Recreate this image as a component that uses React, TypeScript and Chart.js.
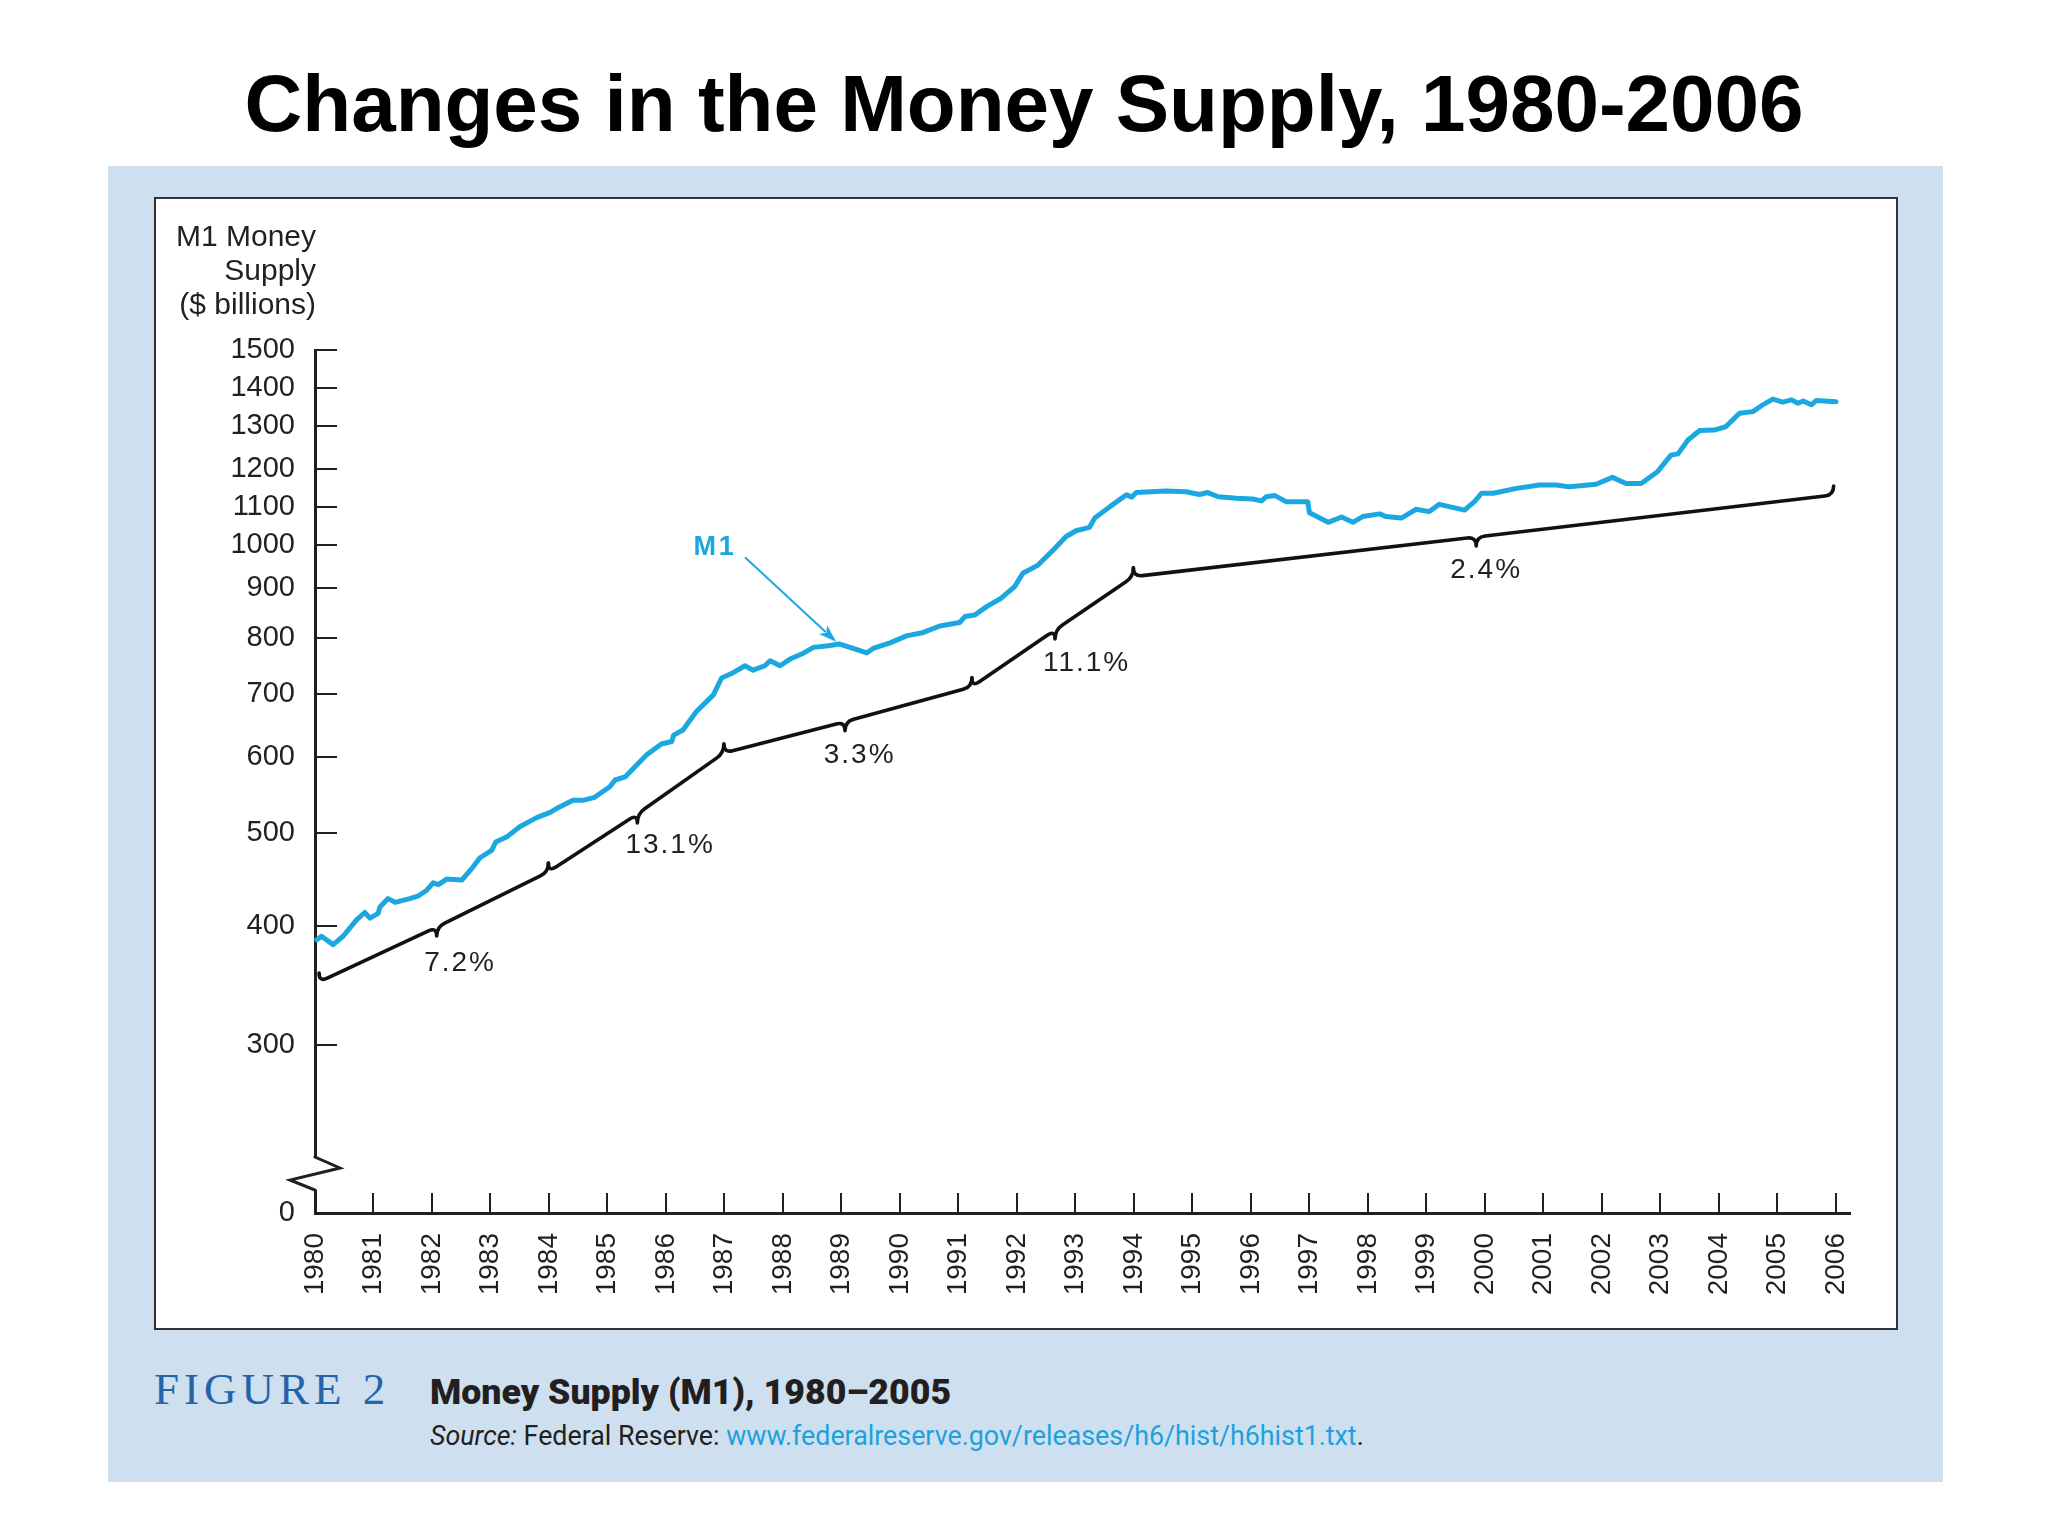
import React, { useEffect, useRef } from 'react';
import { Chart, LinearScale, registerables } from 'chart.js';

Chart.register(...registerables);

// ---------------- data ----------------
const m1Years = [
  1980.03, 1980.11, 1980.31, 1980.48, 1980.71, 1980.85, 1980.94, 1981.08, 1981.11, 1981.25,
  1981.37, 1981.62, 1981.77, 1981.91, 1982.02, 1982.11, 1982.25, 1982.51, 1982.70, 1982.82,
  1983.02, 1983.09, 1983.29, 1983.50, 1983.79, 1984.02, 1984.13, 1984.41, 1984.58, 1984.78,
  1985.04, 1985.13, 1985.30, 1985.67, 1985.92, 1986.10, 1986.13, 1986.29, 1986.52, 1986.81,
  1986.95, 1987.12, 1987.35, 1987.49, 1987.69, 1987.78, 1987.95, 1988.12, 1988.32, 1988.52,
  1988.77, 1988.97, 1989.20, 1989.43, 1989.54, 1989.83, 1990.11, 1990.40, 1990.68, 1991.02,
  1991.11, 1991.28, 1991.48, 1991.73, 1991.96, 1992.10, 1992.36, 1992.62, 1992.84, 1993.01,
  1993.24, 1993.33, 1993.59, 1993.87, 1993.96, 1994.04, 1994.55, 1994.89, 1995.12, 1995.26,
  1995.44, 1995.75, 1996.03, 1996.18, 1996.26, 1996.41, 1996.60, 1996.97, 1997.00, 1997.32,
  1997.55, 1997.74, 1997.91, 1998.20, 1998.31, 1998.57, 1998.82, 1999.05, 1999.22, 1999.65,
  1999.82, 1999.94, 2000.14, 2000.54, 2000.93, 2001.22, 2001.44, 2001.90, 2002.18, 2002.41,
  2002.67, 2002.95, 2003.18, 2003.30, 2003.47, 2003.67, 2003.92, 2004.12, 2004.35, 2004.58,
  2004.75, 2004.92, 2005.09, 2005.24, 2005.35, 2005.44, 2005.58, 2005.66, 2006.00,
];
const m1Values = [
  388, 391, 384, 391, 406, 414, 408, 413, 420, 429,
  425, 429, 432, 438, 446, 444, 450, 449, 463, 473,
  481, 490, 496, 508, 520, 527, 532, 543, 543, 547,
  561, 570, 574, 604, 621, 625, 635, 643, 672, 698,
  728, 736, 750, 742, 750, 759, 750, 762, 771, 783,
  786, 789, 781, 773, 781, 791, 804, 811, 824, 831,
  843, 846, 863, 880, 904, 935, 954, 989, 1023, 1038,
  1047, 1071, 1101, 1132, 1126, 1138, 1142, 1140, 1133, 1138,
  1127, 1123, 1121, 1116, 1127, 1130, 1114, 1114, 1085, 1060,
  1074, 1060, 1075, 1082, 1075, 1071, 1094, 1088, 1107, 1092,
  1114, 1136, 1136, 1149, 1158, 1158, 1153, 1160, 1178, 1162,
  1162, 1193, 1232, 1235, 1267, 1289, 1290, 1298, 1333, 1337,
  1355, 1370, 1362, 1368, 1359, 1365, 1355, 1366, 1363,
];

const xTickYears = [
  1980, 1981, 1982, 1983, 1984, 1985, 1986, 1987, 1988, 1989, 1990, 1991, 1992, 1993,
  1994, 1995, 1996, 1997, 1998, 1999, 2000, 2001, 2002, 2003, 2004, 2005, 2006,
];
const yTickValues = [0, 300, 400, 500, 600, 700, 800, 900, 1000, 1100, 1200, 1300, 1400, 1500];
// relative spacing between consecutive y ticks (shape of the printed, broken scale)
const yTickGaps = [168, 119.5, 92.8, 75.3, 63.8, 55.7, 49.6, 43, 38.3, 38, 43.3, 38, 37.7];

// growth-rate braces
const braceStartYears = [1980.07, 1983.99, 1986.99, 1991.23, 1993.99];
const braceStartValues = [352.7, 457.7, 607, 712, 927];
const braceMidYears = [1982.08, 1985.51, 1989.06, 1992.65, 1999.85];
const braceMidValues = [398.7, 524.8, 656, 816, 1021.7];
const braceEndYears = [1983.99, 1986.99, 1991.23, 1993.99, 2005.96];
const braceEndValues = [457.7, 607, 712, 927, 1131.6];
const growthLabels = ['7.2%', '13.1%', '3.3%', '11.1%', '2.4%'];
const growthLabelYears = [1982.48, 1986.07, 1989.31, 1993.19, 2000.02];
const growthLabelValues = [368.4, 486.7, 603.8, 754.4, 942.6];

// series label and pointer
const seriesLabel = 'M1';
const seriesLabelYear = 1986.84;
const seriesLabelValue = 993.7;
const arrowFromYear = 1987.35;
const arrowFromValue = 972;
const arrowToYear = 1988.91;
const arrowToValue = 793;

// axis break (values between which the y axis is broken)
const yBreakTop = 100;
const yBreakBottom = 41;

const yTitleLines = ['M1 Money', 'Supply', '($ billions)'];

// ---------------- styling ----------------
const CYAN = '#1BA7E0';
const INK = '#231f20';
const SANS = "'Liberation Sans', Arial, Helvetica, sans-serif";

// ---------------- broken y scale ----------------
const yCum: number[] = [0];
yTickGaps.forEach((g) => yCum.push(yCum[yCum.length - 1] + g));
const yTotal = yCum[yCum.length - 1];

function warp(v: number): number {
  const n = yTickValues.length - 1;
  if (v <= yTickValues[0]) return 0;
  for (let i = 1; i <= n; i++) {
    if (v <= yTickValues[i]) {
      const t = (v - yTickValues[i - 1]) / (yTickValues[i] - yTickValues[i - 1]);
      return (yCum[i - 1] + t * yTickGaps[i - 1]) / yTotal;
    }
  }
  const t = (v - yTickValues[n]) / (yTickValues[n] - yTickValues[n - 1]);
  return (yTotal + t * yTickGaps[n - 1]) / yTotal;
}
function unwarp(d: number): number {
  const p = d * yTotal;
  for (let i = 1; i < yCum.length; i++) {
    if (p <= yCum[i]) {
      const t = (p - yCum[i - 1]) / yTickGaps[i - 1];
      return yTickValues[i - 1] + t * (yTickValues[i] - yTickValues[i - 1]);
    }
  }
  return yTickValues[yTickValues.length - 1];
}

class BrokenLinearScale extends (LinearScale as any) {
  static id = 'brokenLinear';
  determineDataLimits() {
    (this as any).min = yTickValues[0];
    (this as any).max = yTickValues[yTickValues.length - 1];
  }
  buildTicks() {
    return yTickValues.map((value) => ({ value }));
  }
  getPixelForValue(value: number) {
    return (this as any).getPixelForDecimal(warp(value));
  }
  getValueForPixel(pixel: number) {
    return unwarp((this as any).getDecimalForPixel(pixel));
  }
}
Chart.register(BrokenLinearScale as any);

// ---------------- overlay plugin ----------------
function unit(dx: number, dy: number) {
  const l = Math.hypot(dx, dy) || 1;
  return { x: dx / l, y: dy / l };
}

const overlayPlugin = {
  id: 'overlay',
  afterDraw(chart: any) {
    const { ctx, chartArea } = chart;
    const xs = chart.scales.x;
    const ys = chart.scales.y;
    const left = chartArea.left;
    const bottom = chartArea.bottom;
    ctx.save();

    // inside tick marks
    ctx.strokeStyle = INK;
    ctx.lineWidth = 2;
    ctx.beginPath();
    yTickValues.forEach((v) => {
      if (v === 0) return;
      const py = Math.round(ys.getPixelForValue(v));
      ctx.moveTo(left, py);
      ctx.lineTo(left + 22, py);
    });
    xTickYears.forEach((yr, i) => {
      if (i === 0) return;
      const px = Math.round(xs.getPixelForValue(yr));
      ctx.moveTo(px, bottom);
      ctx.lineTo(px, bottom - 20);
    });
    ctx.stroke();

    // y-axis break
    const bt = ys.getPixelForValue(yBreakTop);
    const bb = ys.getPixelForValue(yBreakBottom);
    ctx.fillStyle = '#ffffff';
    ctx.fillRect(left - 3, bt, 6, bb - bt);
    ctx.lineWidth = 3;
    ctx.lineJoin = 'miter';
    ctx.beginPath();
    ctx.moveTo(left, bt - 1);
    ctx.lineTo(left, bt);
    ctx.lineTo(left + 25, bt + 11);
    ctx.lineTo(left - 25, bt + 23);
    ctx.lineTo(left, bb);
    ctx.lineTo(left, bb + 1);
    ctx.stroke();

    // y-axis title
    ctx.fillStyle = INK;
    ctx.font = `30px ${SANS}`;
    ctx.textAlign = 'right';
    ctx.textBaseline = 'middle';
    yTitleLines.forEach((t, i) => {
      ctx.fillText(t, left + 1, chartArea.top - 112 + i * 34);
    });

    // growth braces
    ctx.strokeStyle = '#111111';
    ctx.lineWidth = 3.6;
    ctx.lineCap = 'round';
    ctx.lineJoin = 'round';
    const h = 9;
    for (let i = 0; i < braceStartYears.length; i++) {
      const S = { x: xs.getPixelForValue(braceStartYears[i]), y: ys.getPixelForValue(braceStartValues[i]) };
      const M = { x: xs.getPixelForValue(braceMidYears[i]), y: ys.getPixelForValue(braceMidValues[i]) };
      const E = { x: xs.getPixelForValue(braceEndYears[i]), y: ys.getPixelForValue(braceEndValues[i]) };
      const u = unit(M.x - S.x, M.y - S.y);
      const v = unit(E.x - M.x, E.y - M.y);
      ctx.beginPath();
      ctx.moveTo(S.x, S.y - h);
      ctx.quadraticCurveTo(S.x, S.y, S.x + u.x * h, S.y + u.y * h);
      ctx.lineTo(M.x - u.x * h, M.y - u.y * h);
      ctx.quadraticCurveTo(M.x, M.y, M.x, M.y + h);
      ctx.quadraticCurveTo(M.x, M.y, M.x + v.x * h, M.y + v.y * h);
      ctx.lineTo(E.x - v.x * h, E.y - v.y * h);
      ctx.quadraticCurveTo(E.x, E.y, E.x, E.y - h);
      ctx.stroke();
    }

    // growth labels
    ctx.fillStyle = INK;
    ctx.font = `28px ${SANS}`;
    ctx.textAlign = 'center';
    ctx.textBaseline = 'middle';
    try { (ctx as any).letterSpacing = '2px'; } catch (e) { /* ignore */ }
    growthLabels.forEach((t, i) => {
      ctx.fillText(t, xs.getPixelForValue(growthLabelYears[i]), ys.getPixelForValue(growthLabelValues[i]));
    });

    // M1 label and arrow
    ctx.fillStyle = CYAN;
    ctx.font = `bold 27px ${SANS}`;
    try { (ctx as any).letterSpacing = '3px'; } catch (e) { /* ignore */ }
    ctx.fillText(seriesLabel, xs.getPixelForValue(seriesLabelYear), ys.getPixelForValue(seriesLabelValue));
    try { (ctx as any).letterSpacing = '0px'; } catch (e) { /* ignore */ }
    const ax = xs.getPixelForValue(arrowFromYear);
    const ay = ys.getPixelForValue(arrowFromValue);
    const bx = xs.getPixelForValue(arrowToYear);
    const by = ys.getPixelForValue(arrowToValue);
    const d = unit(bx - ax, by - ay);
    const headLen = 18;
    const headW = 6;
    ctx.strokeStyle = CYAN;
    ctx.lineWidth = 2;
    ctx.lineCap = 'butt';
    ctx.beginPath();
    ctx.moveTo(ax, ay);
    ctx.lineTo(bx - d.x * headLen * 0.8, by - d.y * headLen * 0.8);
    ctx.stroke();
    ctx.beginPath();
    ctx.moveTo(bx, by);
    ctx.lineTo(bx - d.x * headLen - d.y * headW, by - d.y * headLen + d.x * headW);
    ctx.lineTo(bx - d.x * headLen * 0.75, by - d.y * headLen * 0.75);
    ctx.lineTo(bx - d.x * headLen + d.y * headW, by - d.y * headLen - d.x * headW);
    ctx.closePath();
    ctx.fill();

    ctx.restore();
  },
};

// ---------------- component ----------------
export default function App() {
  const canvasRef = useRef<HTMLCanvasElement | null>(null);

  useEffect(() => {
    const canvas = canvasRef.current;
    if (!canvas) return;
    const chart = new Chart(canvas, {
      type: 'line',
      data: {
        datasets: [
          {
            label: 'M1',
            data: m1Years.map((x, i) => ({ x, y: m1Values[i] })),
            borderColor: CYAN,
            backgroundColor: CYAN,
            borderWidth: 5,
            pointRadius: 0,
            tension: 0,
            fill: false,
            borderJoinStyle: 'round',
            borderCapStyle: 'round',
            clip: false,
          } as any,
        ],
      },
      options: {
        responsive: false,
        maintainAspectRatio: false,
        devicePixelRatio: 1,
        animation: false,
        events: [],
        layout: { padding: { left: 0, top: 350, right: 198, bottom: 0 } },
        plugins: { legend: { display: false }, tooltip: { enabled: false }, title: { display: false } },
        scales: {
          x: {
            type: 'linear',
            min: xTickYears[0],
            max: 2006.24,
            afterBuildTicks: (scale: any) => {
              scale.ticks = xTickYears.map((value) => ({ value }));
            },
            afterFit: (scale: any) => {
              scale.height = 323;
            },
            grid: { display: false, drawTicks: false },
            border: { display: true, color: INK, width: 3 },
            ticks: {
              autoSkip: false,
              minRotation: 90,
              maxRotation: 90,
              padding: 20,
              color: INK,
              font: { family: SANS, size: 28 },
              callback: (v: any) => String(v),
            },
          },
          y: {
            type: 'brokenLinear' as any,
            afterFit: (scale: any) => {
              scale.width = 315;
            },
            grid: { display: false, drawTicks: false },
            border: { display: true, color: INK, width: 3 },
            ticks: {
              autoSkip: false,
              padding: 20,
              color: INK,
              font: { family: SANS, size: 29 },
              callback: (v: any) => String(v),
            },
          } as any,
        },
      },
      plugins: [overlayPlugin],
    });
    return () => chart.destroy();
  }, []);

  return (
    <div
      style={{
        position: 'absolute',
        left: 0,
        top: 0,
        width: 2048,
        height: 1536,
        background: '#ffffff',
        overflow: 'hidden',
      }}
    >
      <div
        style={{
          position: 'absolute',
          left: 0,
          top: 64,
          width: 2048,
          textAlign: 'center',
          fontFamily: SANS,
          fontWeight: 'bold',
          fontSize: 80,
          lineHeight: '80px',
          color: '#000',
          whiteSpace: 'nowrap',
        }}
      >
        Changes in the Money Supply, 1980-2006
      </div>
      <div
        style={{
          position: 'absolute',
          left: 108,
          top: 166,
          width: 1835,
          height: 1316,
          background: '#CEDFF0',
        }}
      />
      <div
        style={{
          position: 'absolute',
          left: 154,
          top: 197,
          width: 1744,
          height: 1133,
          background: '#ffffff',
          border: '2px solid #333',
          boxSizing: 'border-box',
        }}
      />
      <div
        style={{
          position: 'absolute',
          left: 154,
          top: 1367,
          fontFamily: "'Liberation Serif', 'DejaVu Serif', serif",
          fontSize: 45,
          lineHeight: '45px',
          letterSpacing: 5,
          color: '#2563A8',
          whiteSpace: 'nowrap',
        }}
      >
        FIGURE 2
      </div>
      <div
        style={{
          position: 'absolute',
          left: 430,
          top: 1375,
          fontFamily: "Roboto, 'Open Sans', sans-serif",
          fontWeight: 900,
          fontSize: 35.7,
          lineHeight: '35.7px',
          color: INK,
          whiteSpace: 'nowrap',
        }}
      >
        Money Supply (M1), 1980–2005
      </div>
      <div
        style={{
          position: 'absolute',
          left: 430,
          top: 1423,
          fontFamily: "Roboto, 'Open Sans', sans-serif",
          fontSize: 26.8,
          lineHeight: '26.8px',
          color: INK,
          whiteSpace: 'nowrap',
        }}
      >
        <i>Source:</i> Federal Reserve:{' '}
        <span style={{ color: '#1EA1DB' }}>www.federalreserve.gov/releases/h6/hist/h6hist1.txt</span>.
      </div>
      <canvas
        ref={canvasRef}
        width={2048}
        height={1536}
        style={{ position: 'absolute', left: 0, top: 0, width: 2048, height: 1536 }}
      />
    </div>
  );
}
